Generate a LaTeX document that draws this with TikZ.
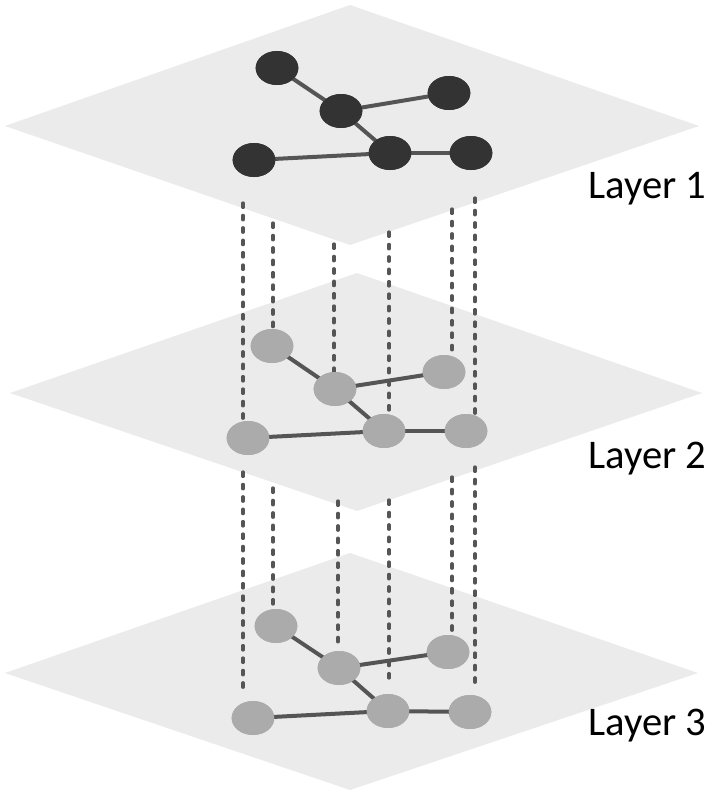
\documentclass[tikz,border=0pt]{standalone}
\usepackage{fontspec}
\setmainfont{Carlito}
\usetikzlibrary{shapes.geometric}
\definecolor{planegray}{HTML}{EBEBEB}
\definecolor{darknode}{HTML}{333333}
\definecolor{lightnode}{HTML}{ABABAB}
\definecolor{edgegray}{HTML}{555555}
\tikzset{
  plane/.style={fill=planegray, draw=none},
  dnode/.style={ellipse, fill=darknode, draw=none, minimum width=32pt, minimum height=25.5pt, inner sep=0pt},
  lnode/.style={ellipse, fill=lightnode, draw=none, minimum width=32pt, minimum height=25.5pt, inner sep=0pt},
  link/.style={draw=edgegray, line width=3pt},
  vline/.style={draw=edgegray, line width=2.5pt, line cap=round, dash pattern=on 3.3pt off 6pt},
  lab/.style={font=\fontsize{30.5}{36}\selectfont, anchor=base west, inner sep=0pt}
}
\begin{document}
\begin{tikzpicture}[x=0.75pt,y=-0.75pt]
\useasboundingbox (0,0) rectangle (711,799);
% planes
\fill[plane] (350,553) -- (698,673) -- (350,790) -- (5,673) -- cycle;
\fill[plane] (357,273) -- (702,393) -- (357,511) -- (10,393) -- cycle;
\fill[plane] (350,5) -- (699,126) -- (350,245) -- (5,126) -- cycle;

% layer 3 nodes
\node[lnode] (A3) at (276,626) {};
\node[lnode] (B3) at (339,668) {};
\node[lnode] (C3) at (448,652) {};
\node[lnode] (D3) at (253,718) {};
\node[lnode] (E3) at (388,711) {};
\node[lnode] (F3) at (470,712) {};
% layer 2 nodes
\node[lnode] (A2) at (272,346) {};
\node[lnode] (B2) at (335,389) {};
\node[lnode] (C2) at (444,372) {};
\node[lnode] (D2) at (248,438) {};
\node[lnode] (E2) at (384,431) {};
\node[lnode] (F2) at (466,431) {};
% layer 1 nodes
\node[dnode] (A1) at (277,68) {};
\node[dnode] (B1) at (341,111) {};
\node[dnode] (C1) at (449,93) {};
\node[dnode] (D1) at (254,160) {};
\node[dnode] (E1) at (390,153) {};
\node[dnode] (F1) at (471,153) {};

% vertical dashed lines between layer 1 and layer 2
\coordinate (tD1) at (243,203);
\coordinate (tA1) at (273,223);
\coordinate (tB1) at (334,244);
\coordinate (tE1) at (389,232);
\coordinate (tC1) at (452,209);
\coordinate (tF1) at (475,198);
\coordinate (bD2) at (243,420);
\coordinate (bA2) at (273,330);
\coordinate (bB2) at (334,373);
\coordinate (bE2) at (389,413);
\coordinate (bC2) at (452,353);
\coordinate (bF2) at (475,415);
\foreach \a/\b in {tD1/bD2,tA1/bA2,tB1/bB2,tE1/bE2,tC1/bC2,tF1/bF2}
  \draw[vline] (\a) -- (\b);
% vertical dashed lines between layer 2 and layer 3
\coordinate (tD2) at (243,472);
\coordinate (tA2) at (273,488);
\coordinate (tB2) at (338,501);
\coordinate (tE2) at (389,500);
\coordinate (tC2) at (452,477);
\coordinate (tF2) at (475,467);
\coordinate (bD3) at (243,690);
\coordinate (bA3) at (273,608);
\coordinate (bB3) at (338,645);
\coordinate (bE3) at (389,680);
\coordinate (bC3) at (452,633);
\coordinate (bF3) at (475,687);
\foreach \a/\b in {tD2/bD3,tA2/bA3,tB2/bB3,tE2/bE3,tC2/bC3,tF2/bF3}
  \draw[vline] (\a) -- (\b);

% edges (drawn behind nodes)
\foreach \l in {1,2,3}{
  \draw[link] (A\l.center) -- (B\l.center);
  \draw[link] (B\l.center) -- (C\l.center);
  \draw[link] (B\l.center) -- (E\l.center);
  \draw[link] (D\l.center) -- (E\l.center);
  \draw[link] (E\l.center) -- (F\l.center);
}
% redraw nodes on top of edges
\foreach \n in {A3,B3,C3,D3,E3,F3,A2,B2,C2,D2,E2,F2}
  \fill[lightnode] (\n.center) ellipse (16pt and 12.75pt);
\foreach \n in {A1,B1,C1,D1,E1,F1}
  \fill[darknode] (\n.center) ellipse (16pt and 12.75pt);

% labels
\node[lab] (L1) at (588,198) {Layer 1};
\node[lab] (L2) at (588,468) {Layer 2};
\node[lab] (L3) at (588,735) {Layer 3};
\end{tikzpicture}
\end{document}
